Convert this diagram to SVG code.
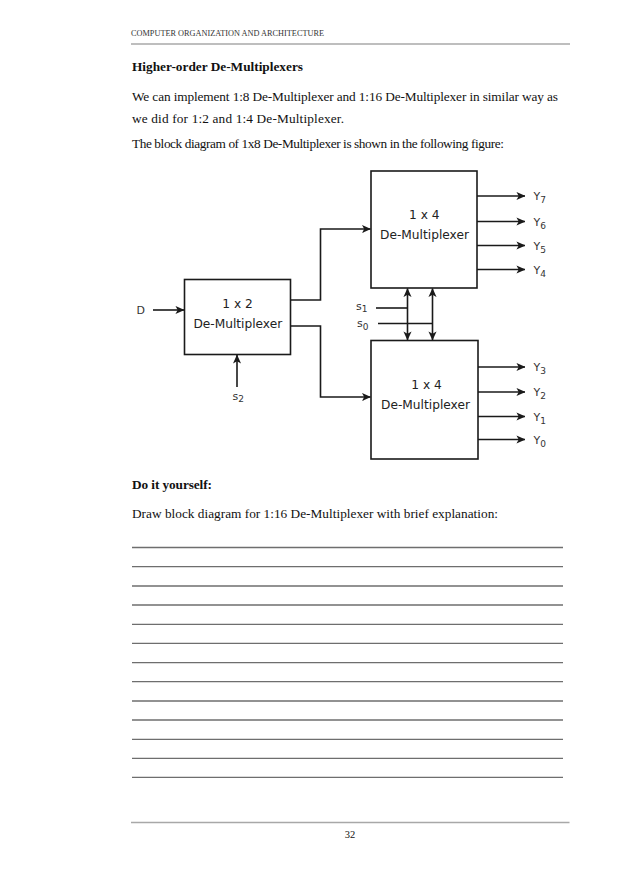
<svg xmlns="http://www.w3.org/2000/svg" width="638" height="877" viewBox="0 0 638 877">
<defs>
<marker id="ah" viewBox="0 0 10 10" refX="9.5" refY="5" markerWidth="9" markerHeight="9" markerUnits="userSpaceOnUse" orient="auto-start-reverse">
<path d="M0,0.5 L10,5 L0,9.5 L2.5,5 z" fill="#1a1a1a"/>
</marker>
<style>
.pg{font-family:"Liberation Serif","Times New Roman",serif;fill:#111}
.b{font-weight:bold}
.hd{font-size:7.8px;fill:#333}
.tx{font-size:13.3px}
.rule{stroke:#6e6e6e;stroke-width:1.3}
.hr{stroke:#a8a8a8;stroke-width:1.3}
.box{fill:#fff;stroke:#1a1a1a;stroke-width:1.6}
.dl{font-family:"DejaVu Sans",Verdana,sans-serif;font-size:12.2px;fill:#222;text-anchor:middle}
.lb{font-family:"DejaVu Sans",Verdana,sans-serif;font-size:11px;fill:#333}
.sub{font-size:9px}
.w{fill:none;stroke:#1a1a1a;stroke-width:1.6}
</style>
</defs>
<rect width="638" height="877" fill="#fff"/>

<g id="page-text">
<text class="pg hd" x="131" y="36" textLength="193" lengthAdjust="spacingAndGlyphs">COMPUTER ORGANIZATION AND ARCHITECTURE</text>
<line class="hr" x1="131" y1="44" x2="570" y2="44"/>
<text class="pg tx b" x="132" y="71" textLength="171">Higher-order De-Multiplexers</text>
<text class="pg tx" x="132" y="100.5" textLength="426">We can implement 1:8 De-Multiplexer and 1:16 De-Multiplexer in similar way as</text>
<text class="pg tx" x="132" y="122.5" textLength="212">we did for 1:2 and 1:4 De-Multiplexer.</text>
<text class="pg tx" x="132" y="148" textLength="372">The block diagram of 1x8 De-Multiplexer is shown in the following figure:</text>
<text class="pg tx b" x="132" y="489" textLength="80">Do it yourself:</text>
<text class="pg tx" x="132" y="518" textLength="366">Draw block diagram for 1:16 De-Multiplexer with brief explanation:</text>
</g>

<g id="answer-lines">
<line class="rule" x1="132" y1="547.5" x2="563" y2="547.5"/>
<line class="rule" x1="132" y1="566.7" x2="563" y2="566.7"/>
<line class="rule" x1="132" y1="586" x2="563" y2="586"/>
<line class="rule" x1="132" y1="605" x2="563" y2="605"/>
<line class="rule" x1="132" y1="624.3" x2="563" y2="624.3"/>
<line class="rule" x1="132" y1="643.3" x2="563" y2="643.3"/>
<line class="rule" x1="132" y1="662.7" x2="563" y2="662.7"/>
<line class="rule" x1="132" y1="681.7" x2="563" y2="681.7"/>
<line class="rule" x1="132" y1="701" x2="563" y2="701"/>
<line class="rule" x1="132" y1="720" x2="563" y2="720"/>
<line class="rule" x1="132" y1="739.3" x2="563" y2="739.3"/>
<line class="rule" x1="132" y1="758.3" x2="563" y2="758.3"/>
<line class="rule" x1="132" y1="777.3" x2="563" y2="777.3"/>
</g>

<g id="footer">
<line class="hr" x1="131" y1="822.5" x2="569.5" y2="822.5"/>
<text class="pg" x="350" y="838" font-size="10.5" text-anchor="middle">32</text>
</g>

<g id="connectors">
<line class="w" x1="153" y1="310" x2="184" y2="310" marker-end="url(#ah)"/>
<line class="w" x1="237" y1="387" x2="237" y2="355" marker-end="url(#ah)"/>
<path class="w" d="M290,300 H320.5 V229 H370.5" marker-end="url(#ah)"/>
<path class="w" d="M290,326 H320.5 V397 H370.5" marker-end="url(#ah)"/>
<line class="w" x1="407.5" y1="288.5" x2="407.5" y2="340" marker-start="url(#ah)" marker-end="url(#ah)"/>
<line class="w" x1="432.5" y1="288.5" x2="432.5" y2="340" marker-start="url(#ah)" marker-end="url(#ah)"/>
<line class="w" x1="376" y1="308" x2="407.5" y2="308"/>
<line class="w" x1="378" y1="323.5" x2="432.5" y2="323.5"/>
<line class="w" x1="477" y1="196" x2="525" y2="196" marker-end="url(#ah)"/>
<line class="w" x1="477" y1="221.5" x2="525" y2="221.5" marker-end="url(#ah)"/>
<line class="w" x1="477" y1="245.5" x2="525" y2="245.5" marker-end="url(#ah)"/>
<line class="w" x1="477" y1="269.5" x2="525" y2="269.5" marker-end="url(#ah)"/>
<line class="w" x1="478" y1="367" x2="525" y2="367" marker-end="url(#ah)"/>
<line class="w" x1="478" y1="392" x2="525" y2="392" marker-end="url(#ah)"/>
<line class="w" x1="478" y1="416.5" x2="525" y2="416.5" marker-end="url(#ah)"/>
<line class="w" x1="478" y1="439.5" x2="525" y2="439.5" marker-end="url(#ah)"/>
</g>

<g id="demux-1x2">
<rect class="box" x="184.5" y="279.5" width="106" height="75"/>
<text class="dl" x="237.5" y="308.3">1 x 2</text>
<text class="dl" x="237.8" y="328.3">De-Multiplexer</text>
</g>

<g id="demux-1x4-top">
<rect class="box" x="371" y="171" width="106" height="117"/>
<text class="dl" x="424.3" y="219">1 x 4</text>
<text class="dl" x="424.5" y="239">De-Multiplexer</text>
</g>

<g id="demux-1x4-bottom">
<rect class="box" x="371" y="340.5" width="107" height="118.5"/>
<text class="dl" x="426.5" y="389.3">1 x 4</text>
<text class="dl" x="425.5" y="409.3">De-Multiplexer</text>
</g>

<g id="labels">
<text class="lb" x="136.5" y="314">D</text>
<text class="lb" x="232.5" y="399.5">s<tspan class="sub" dy="2.5">2</tspan></text>
<text class="lb" x="356" y="309.5">s<tspan class="sub" dy="2.5">1</tspan></text>
<text class="lb" x="357" y="327">s<tspan class="sub" dy="2.5">0</tspan></text>
<text class="lb" x="533.5" y="200">Y<tspan class="sub" dy="3">7</tspan></text>
<text class="lb" x="533.5" y="225.5">Y<tspan class="sub" dy="3">6</tspan></text>
<text class="lb" x="533.5" y="249.5">Y<tspan class="sub" dy="3">5</tspan></text>
<text class="lb" x="533.5" y="273.5">Y<tspan class="sub" dy="3">4</tspan></text>
<text class="lb" x="533.5" y="371">Y<tspan class="sub" dy="3">3</tspan></text>
<text class="lb" x="533.5" y="396">Y<tspan class="sub" dy="3">2</tspan></text>
<text class="lb" x="533.5" y="420.5">Y<tspan class="sub" dy="3">1</tspan></text>
<text class="lb" x="533.5" y="443.5">Y<tspan class="sub" dy="3">0</tspan></text>
</g>
</svg>
